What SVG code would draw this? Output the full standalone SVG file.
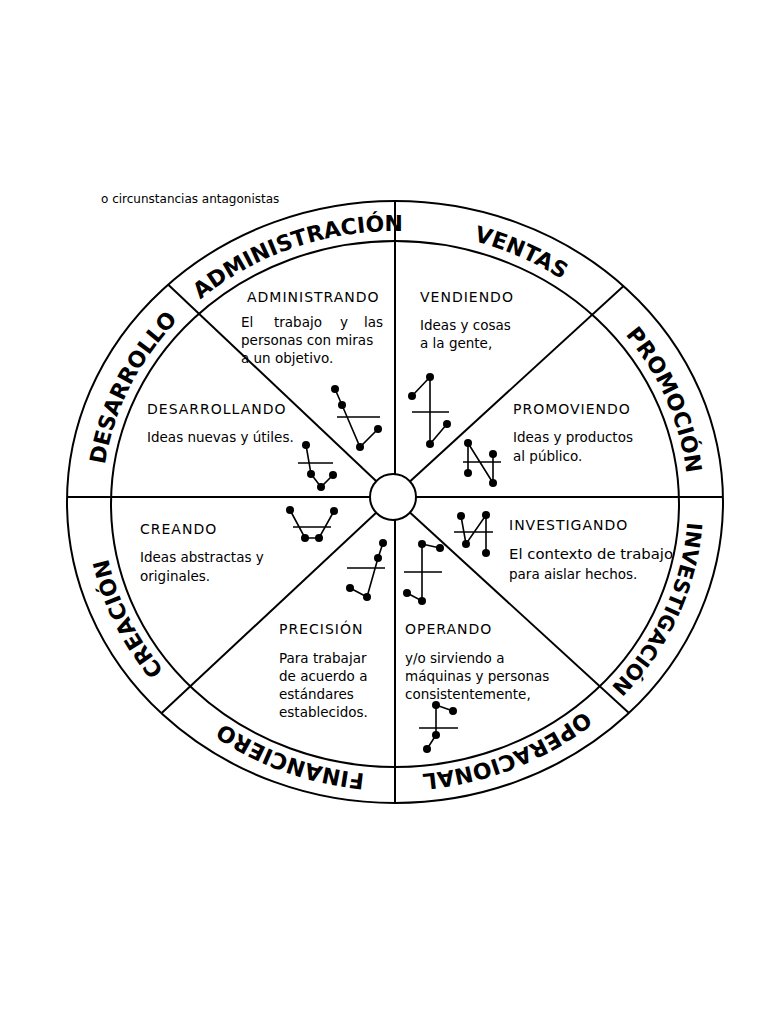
<svg xmlns="http://www.w3.org/2000/svg" width="768" height="1024" viewBox="0 0 768 1024">
<style>
.ln{stroke:#000;stroke-width:2;fill:none}
.g{stroke:#000;stroke-width:1.6;fill:none}
.d{fill:#000}
.t{font-family:"DejaVu Sans",sans-serif;font-size:13.5px;fill:#000}
.h{font-family:"DejaVu Sans",sans-serif;font-size:14px;letter-spacing:1px;fill:#000}
.r{font-family:"DejaVu Sans",sans-serif;font-size:22px;font-weight:bold;fill:#000}
</style>
<defs>
<path id="ring" d="M 102,503 A 293 272 0 1 1 688,503 A 293 272 0 1 1 102,503"/>
<clipPath id="oc"><ellipse cx="395" cy="502" rx="328" ry="301"/></clipPath>
</defs>
<rect width="768" height="1024" fill="#fff"/>
<text x="101" y="203" class="t" style="font-size:12px">o circunstancias antagonistas</text>
<g id="connectors">
<ellipse cx="395" cy="502" rx="328" ry="301" class="ln"/>
<ellipse cx="395" cy="504" rx="284" ry="263" class="ln"/>
<g clip-path="url(#oc)">
<line x1="395" y1="190" x2="395" y2="810" class="ln"/>
<line x1="60" y1="497" x2="730" y2="497" class="ln"/>
<line x1="140" y1="258" x2="393" y2="497" class="ln"/>
<line x1="652" y1="260" x2="393" y2="497" class="ln"/>
<line x1="653" y1="735" x2="393" y2="497" class="ln"/>
<line x1="136" y1="737" x2="393" y2="497" class="ln"/>
</g>
<circle cx="393" cy="497" r="23" fill="#fff" stroke="#000" stroke-width="2"/>
</g>
<g id="ring-labels" class="r">
<text><textPath href="#ring" startOffset="6.8%" text-anchor="middle">DESARROLLO</textPath></text>
<text><textPath href="#ring" startOffset="19.3%" text-anchor="middle">ADMINISTRACIÓN</textPath></text>
<text><textPath href="#ring" startOffset="32.2%" text-anchor="middle">VENTAS</textPath></text>
<text><textPath href="#ring" startOffset="44%" text-anchor="middle">PROMOCIÓN</textPath></text>
<text style="font-size:21px"><textPath href="#ring" startOffset="56.3%" text-anchor="middle">INVESTIGACIÓN</textPath></text>
<text><textPath href="#ring" startOffset="68.5%" text-anchor="middle">OPERACIONAL</textPath></text>
<text><textPath href="#ring" startOffset="81%" text-anchor="middle">FINANCIERO</textPath></text>
<text><textPath href="#ring" startOffset="93.3%" text-anchor="middle">CREACIÓN</textPath></text>
</g>
<g id="administrando">
<text x="247" y="302" class="h">ADMINISTRANDO</text>
<text y="327" class="t"><tspan x="241">El</tspan><tspan x="274">trabajo</tspan><tspan x="340">y</tspan><tspan x="364">las</tspan></text>
<text x="241" y="345" class="t">personas con miras</text>
<text x="241" y="363" class="t">a un objetivo.</text>
<path class="g" d="M335,389 L342,405 L360,447 L378,429 M337,417 H380"/>
<g class="d"><circle cx="335" cy="389" r="4"/><circle cx="342" cy="405" r="4"/><circle cx="360" cy="447" r="4"/><circle cx="378" cy="429" r="4"/></g>
</g>
<g id="vendiendo">
<text x="420" y="302" class="h">VENDIENDO</text>
<text x="420" y="330" class="t">Ideas y cosas</text>
<text x="420" y="348" class="t">a la gente,</text>
<path class="g" d="M412,396 L430,377 V444 L447,424 M412,412 H449"/>
<g class="d"><circle cx="412" cy="396" r="4"/><circle cx="430" cy="377" r="4"/><circle cx="430" cy="444" r="4"/><circle cx="447" cy="424" r="4"/></g>
</g>
<g id="desarrollando">
<text x="147" y="414" class="h">DESARROLLANDO</text>
<text x="147" y="442" class="t">Ideas nuevas y útiles.</text>
<path class="g" d="M306,445 L311,474 L321,487 L333,475 M298,463 H333"/>
<g class="d"><circle cx="306" cy="445" r="4"/><circle cx="311" cy="474" r="4"/><circle cx="321" cy="487" r="4"/><circle cx="333" cy="475" r="4"/></g>
</g>
<g id="promoviendo">
<text x="513" y="414" class="h">PROMOVIENDO</text>
<text x="513" y="442" class="t">Ideas y productos</text>
<text x="513" y="461" class="t">al público.</text>
<path class="g" d="M468,443 V473 M468,443 L493,483 M493,454 V483 M463,462 H501"/>
<g class="d"><circle cx="468" cy="443" r="4"/><circle cx="468" cy="473" r="4"/><circle cx="493" cy="454" r="4"/><circle cx="493" cy="483" r="4"/></g>
</g>
<g id="creando">
<text x="140" y="534" class="h">CREANDO</text>
<text x="140" y="562" class="t">Ideas abstractas y</text>
<text x="140" y="581" class="t">originales.</text>
<path class="g" d="M290,510 L305,538 L319,538 L334,511 M293,527 H331"/>
<g class="d"><circle cx="290" cy="510" r="4"/><circle cx="305" cy="538" r="4"/><circle cx="319" cy="538" r="4"/><circle cx="334" cy="511" r="4"/></g>
</g>
<g id="investigando">
<text x="509" y="530" class="h">INVESTIGANDO</text>
<text x="509" y="559" class="t" textLength="164" lengthAdjust="spacingAndGlyphs">El contexto de trabajo</text>
<text x="509" y="579" class="t">para aislar hechos.</text>
<path class="g" d="M461,516 L466,544 L486,515 V553 M454,532 H493"/>
<g class="d"><circle cx="461" cy="516" r="4"/><circle cx="466" cy="544" r="4"/><circle cx="486" cy="515" r="4"/><circle cx="486" cy="553" r="4"/></g>
</g>
<g id="precision">
<text x="279" y="634" class="h">PRECISIÓN</text>
<text x="279" y="663" class="t">Para trabajar</text>
<text x="279" y="681" class="t">de acuerdo a</text>
<text x="279" y="699" class="t">estándares</text>
<text x="279" y="717" class="t">establecidos.</text>
<path class="g" d="M383,543 L378,558 L367,597 L350,588 M347,568 H385"/>
<g class="d"><circle cx="383" cy="543" r="4"/><circle cx="378" cy="558" r="4"/><circle cx="367" cy="597" r="4"/><circle cx="350" cy="588" r="4"/></g>
</g>
<g id="operando">
<text x="405" y="634" class="h">OPERANDO</text>
<text x="405" y="663" class="t">y/o sirviendo a</text>
<text x="405" y="681" class="t">máquinas y personas</text>
<text x="405" y="699" class="t">consistentemente,</text>
<path class="g" d="M422,544 L440,548 M422,544 V601 L407,593 M404,572 H442"/>
<g class="d"><circle cx="422" cy="544" r="4"/><circle cx="440" cy="548" r="4"/><circle cx="422" cy="601" r="4"/><circle cx="407" cy="593" r="4"/></g>
<path class="g" d="M436,705 L453,711 M436,705 V735 L427,749 M419,728 H458"/>
<g class="d"><circle cx="436" cy="705" r="4"/><circle cx="453" cy="711" r="4"/><circle cx="436" cy="735" r="4"/><circle cx="427" cy="749" r="4"/></g>
</g>
</svg>
